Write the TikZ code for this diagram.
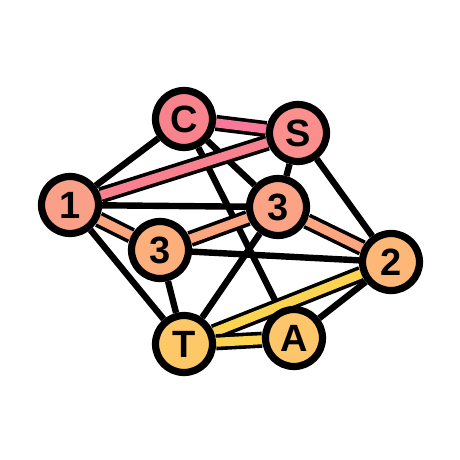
\documentclass[tikz,border=0pt]{standalone}
\usepackage{fontspec}
\setmainfont{Liberation Sans}
\usepackage{xcolor}
\usepackage{tikz}
\usetikzlibrary{backgrounds}
\definecolor{nodeC}{HTML}{F9838D}
\definecolor{nodeS}{HTML}{FA8F8D}
\definecolor{nodeOne}{HTML}{FBA088}
\definecolor{nodeThreeUp}{HTML}{FBA485}
\definecolor{nodeThreeLow}{HTML}{FCAE7B}
\definecolor{nodeTwo}{HTML}{FDB878}
\definecolor{nodeT}{HTML}{FEC767}
\definecolor{nodeA}{HTML}{FEC66B}
\definecolor{bondPink}{HTML}{F7789A}
\definecolor{bondRose}{HTML}{F8808F}
\definecolor{bondOrange}{HTML}{FBA67E}
\definecolor{bondYellow}{HTML}{FCD450}

\begin{document}
\begin{tikzpicture}[x=0.5pt, y=-0.5pt]
    \tikzstyle{atom} = [circle, draw=black, line width=3.6pt, minimum size=28.5pt, inner sep=0pt, font=\fontsize{19}{21}\selectfont\bfseries]
    \tikzstyle{link} = [line width=3.2pt, black]
    \tikzstyle{bond} = [line width=1.8pt, draw=black, double distance=4.5pt]

    \useasboundingbox (0,0) rectangle (460,460);

    \node[atom, fill=nodeC] (c) at (184, 119) {C};
    \node[atom, fill=nodeS] (s) at (298, 133) {S};
    \node[atom, fill=nodeOne] (one) at (70, 205) {1};
    \node[atom, fill=nodeThreeUp] (threeup) at (278, 207) {3};
    \node[atom, fill=nodeThreeLow] (threelow) at (160, 250) {3};
    \node[atom, fill=nodeTwo] (two) at (391, 262) {2};
    \node[atom, fill=nodeT] (t) at (184, 344) {T};
    \node[atom, fill=nodeA] (a) at (294, 338) {A};

    \begin{scope}[on background layer]
        \draw[link] (c) -- (one);
        \draw[link] (c) -- (threeup);
        \draw[link] (c) -- (a);
        \draw[link] (s) -- (threeup);
        \draw[link] (s) -- (two);
        \draw[link] (one) -- (threeup);
        \draw[link] (one) -- (t);
        \draw[link] (threelow) -- (two);
        \draw[link] (threelow) -- (t);
        \draw[link] (threeup) -- (t);
        \draw[link] (two) -- (a);

        \draw[bond, double=bondPink] (c) -- (s);
        \draw[bond, double=bondRose] (one) -- (s);
        \draw[bond, double=bondOrange] (one) -- (threelow);
        \draw[bond, double=bondOrange] (threelow) -- (threeup);
        \draw[bond, double=bondOrange] (threeup) -- (two);
        \draw[bond, double=bondYellow] (t) -- (two);
        \draw[bond, double=bondYellow] (t) -- (a);
    \end{scope}
\end{tikzpicture}
\end{document}
